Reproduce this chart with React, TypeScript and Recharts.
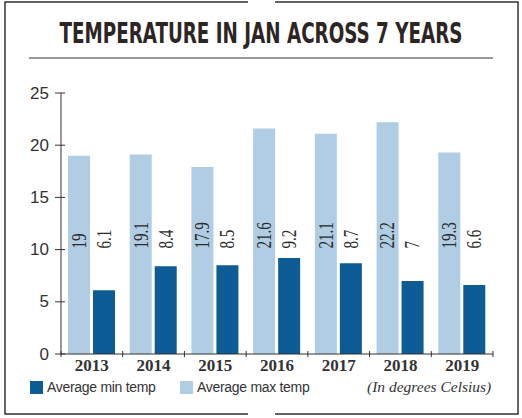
import React from 'react';
import { BarChart, Bar, XAxis, YAxis, LabelList } from 'recharts';

const years = ['2013', '2014', '2015', '2016', '2017', '2018', '2019'];
const minTemp = [6.1, 8.4, 8.5, 9.2, 8.7, 7, 6.6];
const maxTemp = [19, 19.1, 17.9, 21.6, 21.1, 22.2, 19.3];
const yTicks = [0, 5, 10, 15, 20, 25];

const data = years.map((year, i) => ({ year, min: minTemp[i], max: maxTemp[i] }));

const LIGHT = '#b0cde3';
const DARK = '#0d5c96';
const INK = '#333333';
// value labels all sit at the same level on the axis
const LABEL_LEVEL = 10;

const BarValueLabel = (props: any) => {
  const vb = props.viewBox ?? props;
  const { x, y, width, height } = vb;
  const value = props.value;
  if (!value) return null;
  const base = y + height;
  const perUnit = height / value;
  const ly = base - LABEL_LEVEL * perUnit - 1;
  const cx = x + width / 2;
  return (
    <text
      transform={`translate(${cx},${ly}) rotate(-90) scale(0.72,1)`}
      textAnchor="start"
      dominantBaseline="central"
      fontFamily="'Liberation Serif', serif"
      fontSize={21}
      fill="#2a2a2a"
    >
      {value}
    </text>
  );
};

const YearTick = (props: any) => {
  const { x, y, payload, index } = props;
  const half = payload?.offset || 30.85;
  return (
    <g>
      <line x1={x - half} x2={x - half} y1={y - 3} y2={y + 3} stroke={INK} />
      {index === years.length - 1 && (
        <line x1={x + half} x2={x + half} y1={y - 3} y2={y + 3} stroke={INK} />
      )}
      <text
        x={x}
        y={y + 17}
        textAnchor="middle"
        fontFamily="'Liberation Serif', serif"
        fontWeight="bold"
        fontSize={17}
        fill={INK}
      >
        {payload.value}
      </text>
    </g>
  );
};

const ValueTick = (props: any) => {
  const { x, y, payload } = props;
  return (
    <g>
      <line x1={x - 6} x2={x + 4} y1={y} y2={y} stroke={INK} />
      <text
        x={x - 12}
        y={y}
        textAnchor="end"
        dominantBaseline="central"
        fontFamily="'Liberation Sans', sans-serif"
        fontSize={17}
        fill={INK}
      >
        {payload.value}
      </text>
    </g>
  );
};

export default function App() {
  return (
    <div
      style={{
        position: 'absolute',
        left: 0,
        top: 0,
        width: 522,
        height: 418,
        background: '#fff',
      }}
    >
      <svg width={522} height={418} style={{ position: 'absolute', left: 0, top: 0 }}>
        <path
          d="M248,2 H5 V414 H248 M275,414 H518 V2 H275"
          fill="none"
          stroke={INK}
          strokeWidth={1.5}
        />
        <text
          x={261}
          y={43}
          textAnchor="middle"
          fontFamily="'Liberation Sans Narrow', 'DejaVu Sans Condensed', sans-serif"
          fontWeight="bold"
          fontSize={29}
          textLength={403}
          lengthAdjust="spacingAndGlyphs"
          fill="#2d2523"
        >
          TEMPERATURE IN JAN ACROSS 7 YEARS
        </text>
        <line x1={29} x2={493} y1={58} y2={58} stroke={INK} strokeWidth={1} />
      </svg>

      <div style={{ position: 'absolute', left: 0, top: 0 }}>
        <BarChart
          width={522}
          height={418}
          data={data}
          margin={{ top: 93, right: 29, bottom: 34, left: 0 }}
          barSize={22}
          barGap={3}
        >
          <YAxis
            width={61}
            domain={[0, 25]}
            ticks={yTicks}
            interval={0}
            tickLine={false}
            tickSize={0}
            tickMargin={0}
            axisLine={{ stroke: INK, strokeWidth: 1 }}
            tick={<ValueTick />}
          />
          <XAxis
            dataKey="year"
            height={30}
            interval={0}
            tickLine={false}
            tickSize={0}
            tickMargin={0}
            axisLine={{ stroke: INK, strokeWidth: 1 }}
            tick={<YearTick />}
          />
          <Bar dataKey="max" fill={LIGHT} isAnimationActive={false}>
            <LabelList dataKey="max" content={<BarValueLabel />} />
          </Bar>
          <Bar dataKey="min" fill={DARK} isAnimationActive={false}>
            <LabelList dataKey="min" content={<BarValueLabel />} />
          </Bar>
        </BarChart>
      </div>

      <div
        style={{
          position: 'absolute',
          left: 30,
          top: 379,
          width: 470,
          display: 'flex',
          alignItems: 'center',
          fontFamily: "'Liberation Sans', sans-serif",
          fontSize: 14,
          letterSpacing: -0.3,
          color: INK,
          whiteSpace: 'nowrap',
        }}
      >
        <span style={{ width: 13, height: 13, background: DARK, marginRight: 4 }} />
        <span style={{ width: 133 }}>Average min temp</span>
        <span style={{ width: 13, height: 13, background: LIGHT, marginRight: 4 }} />
        <span>Average max temp</span>
        <span
          style={{
            position: 'absolute',
            left: 337,
            fontFamily: "'Liberation Serif', serif",
            fontStyle: 'italic',
            fontSize: 15.5,
            letterSpacing: 0,
          }}
        >
          (In degrees Celsius)
        </span>
      </div>
    </div>
  );
}
